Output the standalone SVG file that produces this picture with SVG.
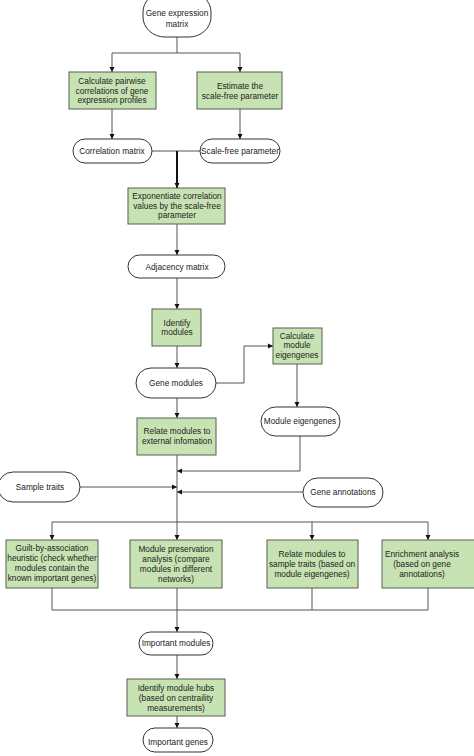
<svg xmlns="http://www.w3.org/2000/svg" width="474" height="756" viewBox="0 0 474 756">
<style>
.box{fill:#c8e3b3;stroke:#55604f;stroke-width:1}
.term{fill:#fff;stroke:#333;stroke-width:1}
text{font-family:"Liberation Sans",Arial,sans-serif;font-size:8.3px;fill:#222;text-anchor:middle;dominant-baseline:central}
.c{fill:none;stroke:#555;stroke-width:1}
</style>
<defs>
<marker id="ah" markerWidth="6" markerHeight="6" refX="5" refY="3" orient="auto" markerUnits="userSpaceOnUse">
<path d="M0,0.5 L5,3 L0,5.5 z" fill="#111"/>
</marker>
</defs>
<rect width="474" height="756" fill="#fff"/>
<g id="connectors">
<path class="c" d="M177,37 V53 M112,53 H240"/>
<path class="c" d="M112,53 V72" marker-end="url(#ah)"/>
<path class="c" d="M240,53 V72" marker-end="url(#ah)"/>
<path class="c" d="M112,109 V139" marker-end="url(#ah)"/>
<path class="c" d="M240,109 V139" marker-end="url(#ah)"/>
<path class="c" d="M152,151 H200"/>
<path d="M177,151 V188" fill="none" stroke="#111" stroke-width="2" marker-end="url(#ah)"/>
<path class="c" d="M177,224 V255" marker-end="url(#ah)"/>
<path class="c" d="M177,278 V309" marker-end="url(#ah)"/>
<path class="c" d="M177,346 V368" marker-end="url(#ah)"/>
<path class="c" d="M216,383 H244 V346 H273" marker-end="url(#ah)"/>
<path class="c" d="M297,364 V407" marker-end="url(#ah)"/>
<path class="c" d="M177,398 V418" marker-end="url(#ah)"/>
<path class="c" d="M177,455 V522"/>
<path class="c" d="M300,436 V471 H177" marker-end="url(#ah)"/>
<path class="c" d="M80,487 H177" marker-end="url(#ah)"/>
<path class="c" d="M303,492 H177" marker-end="url(#ah)"/>
<path class="c" d="M52,522 H428"/>
<path class="c" d="M52,522 V540" marker-end="url(#ah)"/>
<path class="c" d="M177,522 V540" marker-end="url(#ah)"/>
<path class="c" d="M312,522 V540" marker-end="url(#ah)"/>
<path class="c" d="M428,522 V540" marker-end="url(#ah)"/>
<path class="c" d="M52,588 V610 H428 V588 M177,588 V610 M312,588 V610"/>
<path class="c" d="M177,610 V632" marker-end="url(#ah)"/>
<path class="c" d="M177,655 V679" marker-end="url(#ah)"/>
<path class="c" d="M177,716 V728" marker-end="url(#ah)"/>
</g>
<g id="gene-expression-matrix"><rect class="term" x="143" y="-8" width="68" height="45" rx="22" ry="20"/><text x="177" y="13">Gene expression</text><text x="177" y="23.5">matrix</text></g>
<g id="calc-pairwise"><rect class="box" x="69" y="72" width="87" height="37"/><text x="112" y="81">Calculate pairwise</text><text x="112" y="90.5">correlations of gene</text><text x="112" y="100">expression profiles</text></g>
<g id="estimate-sf"><rect class="box" x="197" y="72" width="85" height="37"/><text x="240" y="85.5">Estimate the</text><text x="240" y="95.5">scale-free parameter</text></g>
<g id="correlation-matrix"><rect class="term" x="73" y="139" width="79" height="24" rx="12"/><text x="112" y="151">Correlation matrix</text></g>
<g id="scale-free-parameter"><rect class="term" x="200" y="139" width="80" height="24" rx="12"/><text x="240" y="151">Scale-free parameter</text></g>
<g id="exponentiate"><rect class="box" x="128" y="188" width="97" height="36"/><text x="177" y="196">Exponentiate correlation</text><text x="177" y="205.5">values by the scale-free</text><text x="177" y="215">parameter</text></g>
<g id="adjacency-matrix"><rect class="term" x="128" y="255" width="97" height="23" rx="11.5"/><text x="177" y="266.5">Adjacency matrix</text></g>
<g id="identify-modules"><rect class="box" x="152" y="309" width="49" height="37"/><text x="177" y="322.5">Identify</text><text x="177" y="332">modules</text></g>
<g id="gene-modules"><rect class="term" x="136" y="368" width="80" height="30" rx="15"/><text x="176" y="383">Gene modules</text></g>
<g id="calc-eigengenes"><rect class="box" x="273" y="328" width="49" height="36"/><text x="297" y="335.5">Calculate</text><text x="297" y="345">module</text><text x="297" y="354.5">eigengenes</text></g>
<g id="module-eigengenes"><rect class="term" x="261" y="407" width="79" height="29" rx="14.5"/><text x="300" y="420.5">Module eigengenes</text></g>
<g id="relate-external"><rect class="box" x="137" y="418" width="79" height="37"/><text x="177" y="431">Relate modules to</text><text x="177" y="441">external infomation</text></g>
<g id="sample-traits"><rect class="term" x="-2" y="472" width="82" height="30" rx="15"/><text x="40" y="487">Sample traits</text></g>
<g id="gene-annotations"><rect class="term" x="303" y="478" width="80" height="29" rx="14.5"/><text x="343" y="492">Gene annotations</text></g>
<g id="guilt-by-association"><rect class="box" x="6" y="540" width="92" height="48"/><text x="52" y="548">Guilt-by-association</text><text x="52" y="558">heuristic (check whether</text><text x="52" y="568">modules contain the</text><text x="52" y="578">known important genes)</text></g>
<g id="module-preservation"><rect class="box" x="130" y="540" width="92" height="48"/><text x="176" y="548.5">Module preservation</text><text x="176" y="558.5">analysis (compare</text><text x="176" y="568.5">modules in different</text><text x="176" y="578.5">networks)</text></g>
<g id="relate-sample-traits"><rect class="box" x="267" y="540" width="91" height="48"/><text x="312" y="553.5">Relate modules to</text><text x="312" y="563.5">sample traits (based on</text><text x="312" y="573.5">module eigengenes)</text></g>
<g id="enrichment"><rect class="box" x="382" y="540" width="96" height="48"/><text x="422" y="554">Enrichment analysis</text><text x="422" y="564">(based on gene</text><text x="422" y="574">annotations)</text></g>
<g id="important-modules"><rect class="term" x="139" y="632" width="74" height="23" rx="11.5"/><text x="176" y="643">Important modules</text></g>
<g id="identify-hubs"><rect class="box" x="127" y="679" width="98" height="37"/><text x="176" y="687.5">Identify module hubs</text><text x="176" y="697.5">(based on centraility</text><text x="176" y="707.5">measurements)</text></g>
<g id="important-genes"><rect class="term" x="143" y="728" width="70" height="24" rx="12"/><text x="178" y="741.5">Important genes</text></g>
</svg>
